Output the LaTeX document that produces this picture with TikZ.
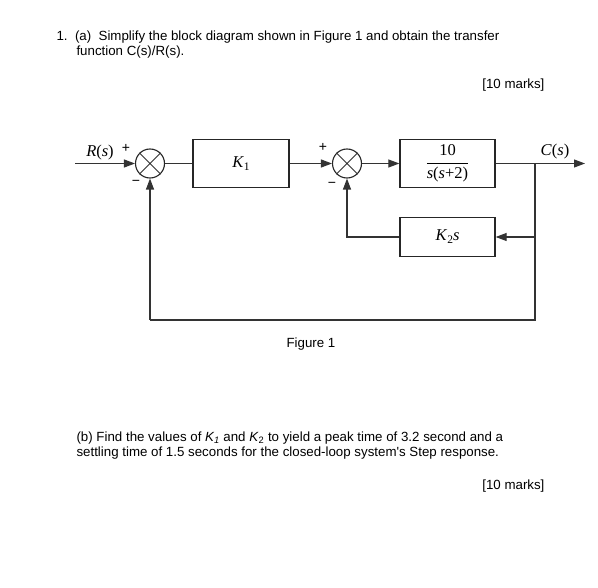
\documentclass[tikz,border=0pt]{standalone}
\usepackage{fontspec}
\setmainfont{Liberation Serif}
\newfontfamily\arialf{Liberation Sans}
\usetikzlibrary{arrows.meta}
\newcommand{\ssub}[1]{\raisebox{-3pt}{\fontsize{11.5}{10}\selectfont #1}}
\begin{document}
\begin{tikzpicture}[x=1pt,y=-1pt,
  line width=1.1pt, draw=black!80,
  arr/.style={-{Triangle[length=11pt,width=8pt]}},
  blk/.style={draw=black!85,line width=1.3pt,minimum width=95pt,inner sep=0pt,font=\fontsize{16.5}{18}\selectfont},
  sumj/.style={draw=black!85,circle,minimum size=29pt,inner sep=0pt,line width=1.1pt},
  q/.style={font=\arialf\fontsize{13.3}{15}\selectfont,anchor=west,inner sep=0pt},
  lab/.style={font=\fontsize{16.5}{18}\selectfont,inner sep=0pt},
  sg/.style={font=\arialf\fontsize{14}{14}\selectfont,inner sep=0pt}]
\useasboundingbox[fill=white] (0,0) rectangle (598,588);
% question text
\node[q] (t1) at (56,37) {1.\ \ (a)\ \ Simplify the block diagram shown in Figure 1 and obtain the transfer};
\node[q] (t2) at (76,52) {function C(s)/R(s).};
\node[q,anchor=east] (m1) at (545,85) {[10 marks]};
% blocks
\node[sumj] (s1) at (150,163.5) {};
\draw[line width=1pt] (s1.north west) -- (s1.south east) (s1.north east) -- (s1.south west);
\node[blk,minimum width=96pt,minimum height=48pt] (k1) at (241,163.5) {\textit{K}\ssub{1}};
\node[sumj] (s2) at (347,163.5) {};
\draw[line width=1pt] (s2.north west) -- (s2.south east) (s2.north east) -- (s2.south west);
\node[blk,minimum width=95pt,minimum height=48pt] (g) at (447.5,163.5) {$\displaystyle\frac{\mbox{10}}{\mbox{\textit{s}(\textit{s}+2)}}$};
\node[blk,minimum width=95pt,minimum height=39pt] (h) at (447.5,237) {\textit{K}\ssub{2}\textit{s}};
% coordinates
\coordinate (in) at (75,163.5);
\coordinate (br) at (535,163.5);
\coordinate (out) at (585,163.5);
\coordinate (brh) at (535,237);
\coordinate (bl) at (535,320);
\coordinate (bll) at (150,320);
\coordinate (hl) at (347,237);
% connectors
\draw[arr] (in) -- (s1.west);
\draw (s1.east) -- (k1.west);
\draw[arr] (k1.east) -- (s2.west);
\draw[arr] (s2.east) -- (g.west);
\draw[arr] (g.east) -- (out);
\draw (br) -- (bl) -- (bll);
\draw[arr] (bll) -- (s1.south);
\draw[arr] (brh) -- (h.east);
\draw[arr] (h.west) -- (hl) -- (s2.south);
% labels
\node[lab] (rl) at (100,153) {\textit{R}(\textit{s})};
\node[lab] (cl) at (555,152) {\textit{C}(\textit{s})};
\node[sg] (p1) at (126,148) {+};
\node[sg] (n1) at (136,183) {\textminus};
\node[sg] (p2) at (323,147) {+};
\node[sg] (n2) at (332,185) {\textminus};
\node[font=\arialf\fontsize{13.3}{15}\selectfont,inner sep=0pt] (fig) at (311,344) {Figure 1};
\node[q] (b1) at (76,438) {(b) Find the values of \textit{K\textsubscript{1}} and \textit{K}\textsubscript{2} to yield a peak time of 3.2 second and a};
\node[q] (b2) at (76,453) {settling time of 1.5 seconds for the closed-loop system's Step response.};
\node[q,anchor=east] (m2) at (545,486) {[10 marks]};
\end{tikzpicture}
\end{document}
